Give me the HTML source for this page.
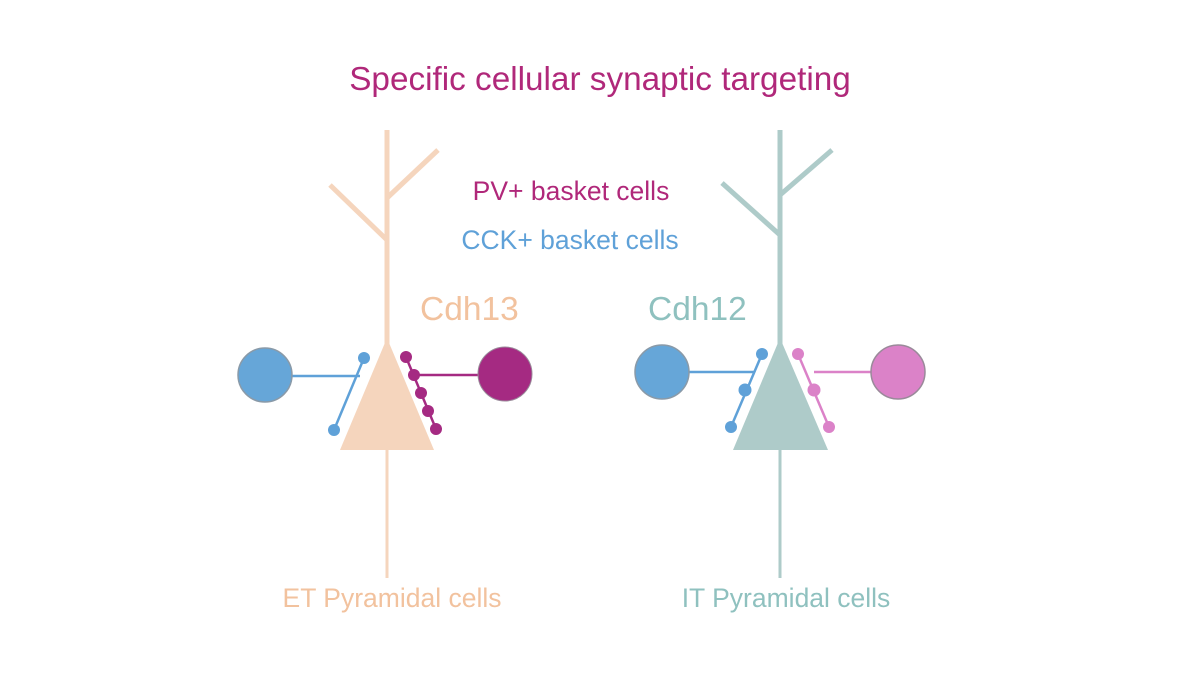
<!DOCTYPE html>
<html><head><style>body{margin:0;background:#fff}</style></head><body>
<svg width="1200" height="675" viewBox="0 0 1200 675" xmlns="http://www.w3.org/2000/svg" font-family="Liberation Sans, sans-serif">
<rect width="1200" height="675" fill="#fff"/>
<text x="600" y="90" font-size="33.3" fill="#b0287a" text-anchor="middle">Specific cellular synaptic targeting</text>
<text x="571" y="200" font-size="26.5" fill="#b0287a" text-anchor="middle">PV+ basket cells</text>
<text x="570" y="249" font-size="26.5" fill="#5fa1d8" text-anchor="middle">CCK+ basket cells</text>
<text x="420" y="320" font-size="33.5" fill="#f2c29e">Cdh13</text>
<text x="648" y="320" font-size="33.5" fill="#8fc1bf">Cdh12</text>
<text x="392" y="607" font-size="26.5" fill="#f2c29e" text-anchor="middle">ET Pyramidal cells</text>
<text x="786" y="607" font-size="26.5" fill="#8fc1bf" text-anchor="middle">IT Pyramidal cells</text>
<!-- left neuron -->
<g stroke="#f5d5bd" stroke-width="5" fill="none">
<line x1="387" y1="130" x2="387" y2="345"/>
<line x1="387" y1="240" x2="330" y2="185"/>
<line x1="387" y1="198" x2="438" y2="150"/>
<line x1="387" y1="449" x2="387" y2="578" stroke-width="3"/>
</g>
<polygon points="387,338 434,450 340,450" fill="#f5d5bd"/>
<line x1="292" y1="376" x2="360" y2="376" stroke="#5fa1d8" stroke-width="2.5"/>
<line x1="364" y1="358" x2="334" y2="430" stroke="#5fa1d8" stroke-width="2.5"/>
<circle cx="364" cy="358" r="6" fill="#5fa1d8"/><circle cx="334" cy="430" r="6" fill="#5fa1d8"/>
<circle cx="265" cy="375" r="27" fill="#66a6d8" stroke="#8a9aa8" stroke-width="1.5"/>
<line x1="414" y1="375" x2="480" y2="375" stroke="#a52a82" stroke-width="2.5"/>
<line x1="406" y1="357" x2="436" y2="429" stroke="#a52a82" stroke-width="2.5"/>
<g fill="#a52a82"><circle cx="406" cy="357" r="6"/><circle cx="414" cy="375" r="6"/><circle cx="421" cy="393" r="6"/><circle cx="428" cy="411" r="6"/><circle cx="436" cy="429" r="6"/></g>
<circle cx="505" cy="374" r="27" fill="#a52a82" stroke="#9a8a9a" stroke-width="1"/>
<!-- right neuron -->
<g stroke="#aecbc9" stroke-width="5" fill="none">
<line x1="780" y1="130" x2="780" y2="345"/>
<line x1="780" y1="235" x2="722" y2="183"/>
<line x1="780" y1="195" x2="832" y2="150"/>
<line x1="780" y1="449" x2="780" y2="578" stroke-width="3"/>
</g>
<polygon points="780,338 828,450 733,450" fill="#aecbc9"/>
<line x1="689" y1="372" x2="755" y2="372" stroke="#5fa1d8" stroke-width="2.5"/>
<line x1="762" y1="354" x2="731" y2="427" stroke="#5fa1d8" stroke-width="2.5"/>
<g fill="#5fa1d8"><circle cx="762" cy="354" r="6"/><circle cx="745" cy="390" r="6.5"/><circle cx="731" cy="427" r="6"/></g>
<circle cx="662" cy="372" r="27" fill="#66a6d8" stroke="#8a9aa8" stroke-width="1.5"/>
<line x1="814" y1="372" x2="872" y2="372" stroke="#db82c8" stroke-width="2.5"/>
<line x1="798" y1="354" x2="829" y2="427" stroke="#db82c8" stroke-width="2.5"/>
<g fill="#db82c8"><circle cx="798" cy="354" r="6"/><circle cx="814" cy="390" r="6.5"/><circle cx="829" cy="427" r="6"/></g>
<circle cx="898" cy="372" r="27" fill="#db82c8" stroke="#9a8a9a" stroke-width="1.5"/>
</svg>
</body></html>
